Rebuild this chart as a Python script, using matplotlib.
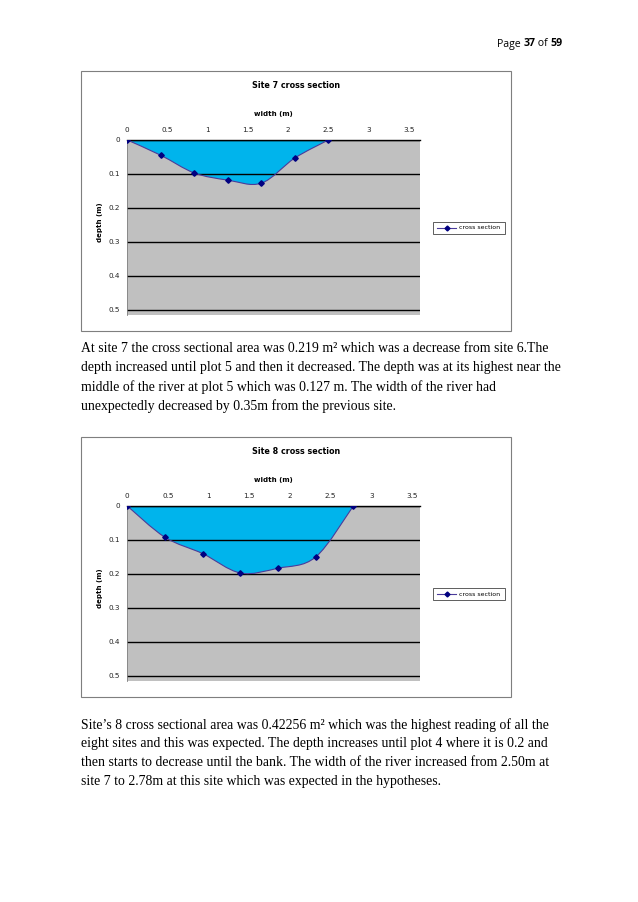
import matplotlib
matplotlib.use("Agg")
import matplotlib.pyplot as plt
from matplotlib.path import Path
from matplotlib.patches import PathPatch, Rectangle

# cross section readings (width along the river section, depth below surface)
site7_width = [0, 0.417, 0.833, 1.25, 1.667, 2.083, 2.5]
site7_depth = [0, 0.045, 0.097, 0.118, 0.127, 0.053, 0]
site8_width = [0, 0.463, 0.927, 1.39, 1.853, 2.317, 2.78]
site8_depth = [0, 0.092, 0.14, 0.197, 0.183, 0.15, 0]

x_ticks = [0, 0.5, 1, 1.5, 2, 2.5, 3, 3.5]
x_labels = ["0", "0.5", "1", "1.5", "2", "2.5", "3", "3.5"]
y_ticks = [0, 0.1, 0.2, 0.3, 0.4, 0.5]
y_labels = ["0", "0.1", "0.2", "0.3", "0.4", "0.5"]

para7 = [
    "At site 7 the cross sectional area was 0.219 m\u00b2 which was a decrease from site 6.The",
    "depth increased until plot 5 and then it decreased. The depth was at its highest near the",
    "middle of the river at plot 5 which was 0.127 m. The width of the river had",
    "unexpectedly decreased by 0.35m from the previous site.",
]
para8 = [
    "Site\u2019s 8 cross sectional area was 0.42256 m\u00b2 which was the highest reading of all the",
    "eight sites and this was expected. The depth increases until plot 4 where it is 0.2 and",
    "then starts to decrease until the bank. The width of the river increased from 2.50m at",
    "site 7 to 2.78m at this site which was expected in the hypotheses.",
]

W, H = 638, 902
BLUE = "#00B4EC"
GREY = "#C0C0C0"
LINE = "#4B3C9A"
MARK = "#000080"

fig = plt.figure(figsize=(W / 100, H / 100), dpi=100)


def fx(x):
    return x / W


def fy(y):
    return 1 - y / H


def smooth_path(xs, ys):
    # Excel style smoothed line: Catmull-Rom turned into cubic Bezier pieces
    pts = list(zip(xs, ys))
    n = len(pts)
    verts = [pts[0]]
    codes = [Path.MOVETO]
    for i in range(n - 1):
        p0 = pts[max(i - 1, 0)]
        p1 = pts[i]
        p2 = pts[i + 1]
        p3 = pts[min(i + 2, n - 1)]
        c1 = (p1[0] + (p2[0] - p0[0]) / 6, p1[1] + (p2[1] - p0[1]) / 6)
        c2 = (p2[0] - (p3[0] - p1[0]) / 6, p2[1] - (p3[1] - p1[1]) / 6)
        verts += [c1, c2, p2]
        codes += [Path.CURVE4] * 3
    return verts, codes


def chart(top, title, xs, ys, xmax):
    # outer chart frame
    fig.patches.append(Rectangle((fx(81), fy(top + 260)), fx(430), 260 / H,
                                 transform=fig.transFigure, fill=False,
                                 edgecolor="#7f7f7f", lw=0.8))
    left, right = 127.3, 420
    ptop, pbot = top + 69, top + 243.5
    ax = fig.add_axes([fx(left), fy(pbot), fx(right - left), (pbot - ptop) / H])
    ax.set_facecolor(GREY)
    ax.set_xlim(0, xmax)
    ax.set_ylim((pbot - ptop) / 340, 0)
    verts, codes = smooth_path(xs, ys)
    fill = Path(verts + [(0, 0)], codes + [Path.CLOSEPOLY])
    ax.add_patch(PathPatch(fill, facecolor=BLUE, edgecolor="none", zorder=1))
    for t in y_ticks:
        ax.axhline(t, color="black", lw=1.0, zorder=2)
    ax.add_patch(PathPatch(Path(verts, codes), facecolor="none",
                           edgecolor=LINE, lw=0.8, zorder=3))
    ax.plot(xs, ys, ls="none", marker="D", ms=2.8, color=MARK, zorder=4)
    ax.xaxis.tick_top()
    ax.set_xticks(x_ticks, x_labels, fontsize=5.2, family="DejaVu Sans")
    ax.set_yticks(y_ticks, y_labels, fontsize=5.2, family="DejaVu Sans")
    ax.tick_params(length=0, pad=5, colors="#222222")
    for side in ("right", "bottom"):
        ax.spines[side].set_visible(False)
    ax.spines["left"].set_color("#808080")
    ax.spines["left"].set_linewidth(0.6)
    ax.spines["top"].set_linewidth(1.0)

    fig.text(fx(296), fy(top + 15), title, ha="center", va="center",
             fontsize=5.8, weight="bold", family="DejaVu Sans")
    fig.text(fx(273), fy(top + 43), "width (m)", ha="center", va="center",
             fontsize=5.0, weight="bold", family="DejaVu Sans")
    fig.text(fx(100), fy(top + 151), "depth (m)", ha="center", va="center",
             rotation=90, fontsize=5.0, weight="bold", family="DejaVu Sans")

    # legend box
    ly = top + 157
    fig.patches.append(Rectangle((fx(433), fy(ly + 6)), fx(72), 12 / H,
                                 transform=fig.transFigure, facecolor="white",
                                 edgecolor="#444444", lw=0.6))
    fig.lines.append(plt.Line2D([fx(437), fx(446.5), fx(456)],
                                [fy(ly), fy(ly), fy(ly)],
                                transform=fig.transFigure, color=LINE, lw=0.8,
                                marker="D", markevery=[1], ms=2.5,
                                mfc=MARK, mec=MARK))
    fig.text(fx(459), fy(ly), "cross section", ha="left", va="center",
             fontsize=4.5, family="DejaVu Sans")


chart(71, "Site 7 cross section", site7_width, site7_depth, 3.64)
chart(437, "Site 8 cross section", site8_width, site8_depth, 3.6)

for i, line in enumerate(para7):
    fig.text(fx(81), fy(349 + i * 19), line, ha="left", va="center",
             fontsize=9.9, family="Liberation Serif")
for i, line in enumerate(para8):
    fig.text(fx(81), fy(725 + i * 18.7), line, ha="left", va="center",
             fontsize=9.9, family="Liberation Serif")

# page header with bold numbers
renderer = fig.canvas.get_renderer()
x = 497
for piece, wt in [("Page ", "normal"), ("37", "bold"), (" of ", "normal"), ("59", "bold")]:
    t = fig.text(fx(x), fy(44), piece, ha="left", va="center", fontsize=7.6,
                 weight=wt, family="Open Sans")
    bb = t.get_window_extent(renderer)
    x += bb.width

fig.savefig("out.png", dpi=100)
